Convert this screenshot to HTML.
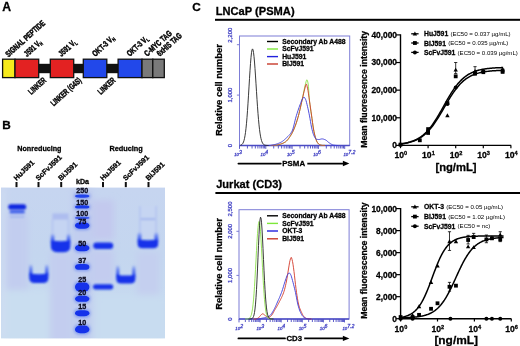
<!DOCTYPE html>
<html><head><meta charset="utf-8"><title>Figure</title>
<style>html,body{margin:0;padding:0;background:#fff;overflow:hidden}svg{display:block}text{font-family:"Liberation Sans", Arial, sans-serif}.hv{stroke:#000;stroke-width:0.28px}.hv2{stroke:#000;stroke-width:0.45px}.hb{stroke:#4a4ac6;stroke-width:0.3px}</style>
</head><body>
<svg width="520" height="346" viewBox="0 0 520 346">
<rect x="0" y="0" width="520" height="346" fill="#fff"/>
<text x="2.20" y="11.40" font-size="12.2" font-weight="bold" text-anchor="start" fill="#000" class="hv">A</text>
<rect x="38.50" y="63.80" width="12.00" height="9.40" fill="#111"/>
<rect x="73.50" y="63.80" width="10.00" height="9.40" fill="#111"/>
<rect x="106.50" y="63.80" width="11.80" height="9.40" fill="#111"/>
<rect x="2.60" y="59.20" width="12.40" height="18.40" fill="#f6ea1c" stroke="#111" stroke-width="1.3"/>
<rect x="15.00" y="59.20" width="23.70" height="18.40" fill="#e32222" stroke="#111" stroke-width="1.3"/>
<rect x="50.30" y="59.20" width="23.40" height="18.40" fill="#e32222" stroke="#111" stroke-width="1.3"/>
<rect x="83.30" y="59.20" width="23.50" height="18.40" fill="#2248ea" stroke="#111" stroke-width="1.3"/>
<rect x="118.10" y="59.20" width="23.90" height="18.40" fill="#2248ea" stroke="#111" stroke-width="1.3"/>
<rect x="142.00" y="59.20" width="10.80" height="18.40" fill="#7a7a7a" stroke="#111" stroke-width="1.3"/>
<rect x="152.80" y="59.20" width="11.50" height="18.40" fill="#7a7a7a" stroke="#111" stroke-width="1.3"/>
<text x="8.60" y="57.40" font-size="8.4" font-weight="bold" text-anchor="start" fill="#000" transform="rotate(-42 8.60 57.40)" textLength="50.00" lengthAdjust="spacingAndGlyphs" class="hv2">SIGNAL PEPTIDE</text>
<text class="hv2" x="27.00" y="57.20" font-size="8.4" font-weight="bold" transform="rotate(-42 27.00 57.20)" textLength="21.00" lengthAdjust="spacingAndGlyphs">J591 V<tspan font-size="5.21" dy="1.4">H</tspan></text>
<text class="hv2" x="61.60" y="57.00" font-size="8.4" font-weight="bold" transform="rotate(-42 61.60 57.00)" textLength="21.00" lengthAdjust="spacingAndGlyphs">J591 V<tspan font-size="5.21" dy="1.4">L</tspan></text>
<text class="hv2" x="95.20" y="57.00" font-size="8.4" font-weight="bold" transform="rotate(-42 95.20 57.00)" textLength="27.00" lengthAdjust="spacingAndGlyphs">OKT-3 V<tspan font-size="5.21" dy="1.4">H</tspan></text>
<text class="hv2" x="129.70" y="56.80" font-size="8.4" font-weight="bold" transform="rotate(-42 129.70 56.80)" textLength="26.00" lengthAdjust="spacingAndGlyphs">OKT-3 V<tspan font-size="5.21" dy="1.4">L</tspan></text>
<text x="147.20" y="56.80" font-size="8.4" font-weight="bold" text-anchor="start" fill="#000" transform="rotate(-42 147.20 56.80)" textLength="34.00" lengthAdjust="spacingAndGlyphs" class="hv2">C-MYC TAG</text>
<text x="159.80" y="56.80" font-size="8.4" font-weight="bold" text-anchor="start" fill="#000" transform="rotate(-42 159.80 56.80)" textLength="30.50" lengthAdjust="spacingAndGlyphs" class="hv2">6xHIS TAG</text>
<text class="hv2" x="46.60" y="81.20" font-size="8.4" font-weight="bold" text-anchor="end" transform="rotate(-42 46.60 81.20)" textLength="20.50" lengthAdjust="spacingAndGlyphs">LINKER</text>
<text class="hv2" x="81.90" y="81.20" font-size="8.4" font-weight="bold" text-anchor="end" transform="rotate(-42 81.90 81.20)" textLength="38.00" lengthAdjust="spacingAndGlyphs">LINKER (G4S)</text>
<text class="hv2" x="116.00" y="81.20" font-size="8.4" font-weight="bold" text-anchor="end" transform="rotate(-42 116.00 81.20)" textLength="20.50" lengthAdjust="spacingAndGlyphs">LINKER</text>
<text x="2.20" y="129.40" font-size="11.8" font-weight="bold" text-anchor="start" fill="#000" class="hv">B</text>
<text x="17.30" y="150.60" font-size="7.3" font-weight="bold" text-anchor="start" fill="#000" textLength="44.20" lengthAdjust="spacingAndGlyphs" class="hv">Nonreducing</text>
<text x="109.40" y="150.60" font-size="7.3" font-weight="bold" text-anchor="start" fill="#000" textLength="33.30" lengthAdjust="spacingAndGlyphs" class="hv">Reducing</text>
<text x="76.00" y="184.40" font-size="7.1" font-weight="bold" text-anchor="start" fill="#000" textLength="13.00" lengthAdjust="spacingAndGlyphs" class="hv">kDa</text>
<text x="16.40" y="181.00" font-size="7.2" font-weight="bold" text-anchor="start" fill="#000" transform="rotate(-44 16.40 181.00)" class="hv">HuJ591</text>
<rect x="15.50" y="182.00" width="2.00" height="5.20" fill="#111"/>
<text x="38.40" y="181.00" font-size="7.2" font-weight="bold" text-anchor="start" fill="#000" transform="rotate(-44 38.40 181.00)" class="hv">ScFvJ591</text>
<rect x="37.50" y="182.00" width="2.00" height="5.20" fill="#111"/>
<text x="61.10" y="181.00" font-size="7.2" font-weight="bold" text-anchor="start" fill="#000" transform="rotate(-44 61.10 181.00)" class="hv">BiJ591</text>
<rect x="60.20" y="182.00" width="2.00" height="5.20" fill="#111"/>
<text x="102.90" y="181.00" font-size="7.2" font-weight="bold" text-anchor="start" fill="#000" transform="rotate(-44 102.90 181.00)" class="hv">HuJ591</text>
<rect x="102.00" y="182.00" width="2.00" height="5.20" fill="#111"/>
<text x="125.70" y="181.00" font-size="7.2" font-weight="bold" text-anchor="start" fill="#000" transform="rotate(-44 125.70 181.00)" class="hv">ScFvJ591</text>
<rect x="124.80" y="182.00" width="2.00" height="5.20" fill="#111"/>
<text x="148.40" y="181.00" font-size="7.2" font-weight="bold" text-anchor="start" fill="#000" transform="rotate(-44 148.40 181.00)" class="hv">BiJ591</text>
<rect x="147.50" y="182.00" width="2.00" height="5.20" fill="#111"/>
<defs><filter id="b05" x="-50%" y="-50%" width="200%" height="200%"><feGaussianBlur stdDeviation="0.55"/></filter><filter id="b1" x="-50%" y="-50%" width="200%" height="200%"><feGaussianBlur stdDeviation="0.8"/></filter><filter id="b2" x="-50%" y="-50%" width="200%" height="200%"><feGaussianBlur stdDeviation="1.5"/></filter><filter id="b3" x="-50%" y="-50%" width="200%" height="200%"><feGaussianBlur stdDeviation="3"/></filter><linearGradient id="gelv" x1="0" y1="0" x2="0" y2="1"><stop offset="0" stop-color="#c6d5f0"/><stop offset="0.45" stop-color="#c4d6ef"/><stop offset="1" stop-color="#c8dcf0"/></linearGradient><linearGradient id="ear" x1="0" y1="0" x2="0" y2="1"><stop offset="0" stop-color="#6a88f0" stop-opacity="0.25"/><stop offset="0.4" stop-color="#4a6af0" stop-opacity="0.8"/><stop offset="1" stop-color="#2244ee" stop-opacity="1"/></linearGradient><clipPath id="gelclip"><rect x="1.0" y="187.6" width="164.0" height="150.70000000000002"/></clipPath></defs>
<rect x="1.00" y="187.60" width="164.00" height="150.70" fill="url(#gelv)"/>
<g clip-path="url(#gelclip)"><g filter="url(#b3)">
<rect x="1.00" y="188.00" width="4.00" height="150.00" fill="#d2def2"/>
<rect x="6.00" y="214.00" width="22.00" height="86.00" fill="#c2cdef"/>
<rect x="50.00" y="252.00" width="21.00" height="93.00" fill="#c3cdef"/>
<rect x="92.00" y="200.00" width="22.00" height="40.00" fill="#c3c9ee"/>
<rect x="92.00" y="250.00" width="22.00" height="34.00" fill="#c3ccef"/>
<rect x="137.00" y="252.00" width="22.00" height="48.00" fill="#c4cfef"/>
<rect x="72.00" y="188.00" width="21.00" height="157.00" fill="#c1cdef"/>
<rect x="5.00" y="290.00" width="45.00" height="55.00" fill="#c9ddf0"/>
<rect x="95.00" y="295.00" width="70.00" height="50.00" fill="#c8dcf0"/>
</g></g>
<g filter="url(#b1)">
<rect x="52.00" y="219.50" width="17.00" height="21.50" fill="#c5d4f2"/>
<rect x="51.60" y="219.50" width="1.80" height="21.50" fill="#b3c4f0"/>
<rect x="67.60" y="219.50" width="1.80" height="21.50" fill="#b3c4f0"/>
<rect x="52.40" y="213.40" width="16.20" height="6.20" fill="#aebdef"/>
<rect x="139.60" y="206.00" width="17.00" height="33.00" fill="#c6d5f2"/>
<rect x="139.20" y="206.00" width="1.80" height="33.00" fill="#b6c6f0"/>
<rect x="155.20" y="206.00" width="1.80" height="33.00" fill="#b6c6f0"/>
<rect x="141.00" y="218.30" width="14.00" height="1.60" fill="#9cb0ee"/>
<rect x="9.00" y="213.50" width="16.00" height="2.00" fill="#b0bff0"/>
</g>
<g filter="url(#b2)" opacity="0.55">
<rect x="74.0" y="193.20" width="16.4" height="5.80" rx="2.90" fill="#4a6cf0" opacity="0.85"/>
<rect x="74.0" y="204.00" width="16.4" height="5.80" rx="2.90" fill="#4a6cf0" opacity="0.9"/>
<rect x="74.0" y="215.60" width="16.4" height="4.60" rx="2.30" fill="#4a6cf0" opacity="0.7"/>
<rect x="74.0" y="221.20" width="16.4" height="8.80" rx="4.40" fill="#4a6cf0" opacity="1"/>
<rect x="74.0" y="243.60" width="16.4" height="8.80" rx="4.40" fill="#4a6cf0" opacity="1"/>
<rect x="74.0" y="262.80" width="16.4" height="8.20" rx="4.10" fill="#4a6cf0" opacity="1"/>
<rect x="74.0" y="281.20" width="16.4" height="11.60" rx="5.00" fill="#4a6cf0" opacity="1"/>
<rect x="74.0" y="294.60" width="16.4" height="8.40" rx="4.20" fill="#4a6cf0" opacity="1"/>
<rect x="74.0" y="309.00" width="16.4" height="8.40" rx="4.20" fill="#4a6cf0" opacity="1"/>
<rect x="74.0" y="324.40" width="16.4" height="10.00" rx="5.00" fill="#4a6cf0" opacity="1"/>
</g>
<g filter="url(#b05)">
<rect x="75.0" y="194.4" width="14.4" height="3.40" rx="5" ry="1.70" fill="#1232ea" opacity="0.85"/>
<rect x="75.0" y="205.2" width="14.4" height="3.40" rx="5" ry="1.70" fill="#1232ea" opacity="0.9"/>
<rect x="75.0" y="216.8" width="14.4" height="2.20" rx="5" ry="1.10" fill="#1232ea" opacity="0.7"/>
<rect x="75.0" y="222.4" width="14.4" height="6.40" rx="5" ry="3.20" fill="#1232ea" opacity="1"/>
<rect x="75.0" y="244.8" width="14.4" height="6.40" rx="5" ry="3.20" fill="#1232ea" opacity="1"/>
<rect x="75.0" y="264.0" width="14.4" height="5.80" rx="5" ry="2.90" fill="#1232ea" opacity="1"/>
<rect x="75.0" y="282.4" width="14.4" height="9.20" rx="5" ry="4.60" fill="#1232ea" opacity="1"/>
<rect x="75.0" y="295.8" width="14.4" height="6.00" rx="5" ry="3.00" fill="#1232ea" opacity="1"/>
<rect x="75.0" y="310.2" width="14.4" height="6.00" rx="5" ry="3.00" fill="#1232ea" opacity="1"/>
<rect x="75.0" y="325.6" width="14.4" height="7.60" rx="5" ry="3.80" fill="#1232ea" opacity="1"/>
</g>
<g filter="url(#b1)">
<rect x="9.6" y="210.6" width="15.2" height="2.6" rx="1.2" fill="#3554ea"/>
<rect x="10" y="216.2" width="14.4" height="1.6" fill="#a4b6ee"/>
<rect x="8.2" y="204.3" width="18" height="5.2" rx="2.6" fill="#1028e0"/>
<rect x="29.20" y="264.50" width="3.20" height="10.50" rx="1.2" fill="url(#ear)"/>
<rect x="45.20" y="264.50" width="3.20" height="10.50" rx="1.2" fill="url(#ear)"/>
<path d="M29.20,273.00 Q38.80,275.40 48.40,273.00 L48.40,277.50 Q48.40,283.00 42.90,283.00 L34.70,283.00 Q29.20,283.00 29.20,277.50 Z" fill="#1232ea"/>
<rect x="50.80" y="234.00" width="3.60" height="8.60" rx="1.2" fill="url(#ear)"/>
<rect x="66.80" y="234.00" width="3.60" height="8.60" rx="1.2" fill="url(#ear)"/>
<path d="M50.80,240.60 Q60.60,241.80 70.40,240.60 L70.40,245.82 Q70.40,252.20 64.02,252.20 L57.18,252.20 Q50.80,252.20 50.80,245.82 Z" fill="#1232ea"/>
<rect x="93.2" y="242.4" width="20.0" height="6.6" rx="3.3" fill="#1232ea"/>
<rect x="93.0" y="284.2" width="20.2" height="5.2" rx="2.6" fill="#1232ea"/>
<rect x="116.20" y="265.50" width="3.20" height="10.90" rx="1.2" fill="url(#ear)"/>
<rect x="132.20" y="265.50" width="3.20" height="10.90" rx="1.2" fill="url(#ear)"/>
<path d="M116.20,274.40 Q125.80,276.80 135.40,274.40 L135.40,278.45 Q135.40,283.40 130.45,283.40 L121.15,283.40 Q116.20,283.40 116.20,278.45 Z" fill="#1232ea"/>
<rect x="137.60" y="232.50" width="3.80" height="9.10" rx="1.2" fill="url(#ear)"/>
<rect x="154.40" y="232.50" width="3.80" height="9.10" rx="1.2" fill="url(#ear)"/>
<path d="M137.60,239.60 Q147.90,240.80 158.20,239.60 L158.20,243.47 Q158.20,248.20 153.47,248.20 L142.33,248.20 Q137.60,248.20 137.60,243.47 Z" fill="#1232ea"/>
</g>
<text x="82.20" y="193.00" font-size="7.2" font-weight="bold" text-anchor="middle" fill="#10103a" class="hv">250</text>
<text x="82.20" y="204.60" font-size="7.2" font-weight="bold" text-anchor="middle" fill="#10103a" class="hv">150</text>
<text x="82.20" y="216.20" font-size="7.2" font-weight="bold" text-anchor="middle" fill="#10103a" class="hv">100</text>
<text x="82.20" y="223.60" font-size="7.2" font-weight="bold" text-anchor="middle" fill="#10103a" class="hv">75</text>
<text x="82.20" y="246.40" font-size="7.2" font-weight="bold" text-anchor="middle" fill="#10103a" class="hv">50</text>
<text x="82.20" y="262.60" font-size="7.2" font-weight="bold" text-anchor="middle" fill="#10103a" class="hv">37</text>
<text x="82.20" y="282.00" font-size="7.2" font-weight="bold" text-anchor="middle" fill="#10103a" class="hv">25</text>
<text x="82.20" y="295.40" font-size="7.2" font-weight="bold" text-anchor="middle" fill="#10103a" class="hv">20</text>
<text x="82.20" y="309.00" font-size="7.2" font-weight="bold" text-anchor="middle" fill="#10103a" class="hv">15</text>
<text x="82.20" y="325.20" font-size="7.2" font-weight="bold" text-anchor="middle" fill="#10103a" class="hv">10</text>
<text x="192.20" y="10.90" font-size="11.8" font-weight="bold" text-anchor="start" fill="#000" class="hv">C</text>
<text x="215.80" y="14.50" font-size="11.1" font-weight="bold" text-anchor="start" fill="#000" textLength="78.80" lengthAdjust="spacingAndGlyphs" class="hv">LNCaP (PSMA)</text>
<rect x="215.00" y="18.80" width="305.00" height="2.00" fill="#000"/>
<text x="216.20" y="188.30" font-size="11.1" font-weight="bold" text-anchor="start" fill="#000" textLength="65.80" lengthAdjust="spacingAndGlyphs" class="hv">Jurkat (CD3)</text>
<rect x="215.40" y="192.00" width="304.60" height="2.00" fill="#000"/>
<text x="222.00" y="90.00" font-size="8.8" font-weight="bold" text-anchor="middle" fill="#000" transform="rotate(-90 222.00 90.00)" textLength="92.00" lengthAdjust="spacingAndGlyphs" class="hv">Relative cell number</text>
<text x="222.00" y="263.90" font-size="8.8" font-weight="bold" text-anchor="middle" fill="#000" transform="rotate(-90 222.00 263.90)" textLength="91.80" lengthAdjust="spacingAndGlyphs" class="hv">Relative cell number</text>
<rect x="239.50" y="36.00" width="110.20" height="109.50" fill="none" stroke="#7d7dd6" stroke-width="1"/>
<line x1="236.90" y1="44.70" x2="239.50" y2="44.70" stroke="#7d7dd6" stroke-width="1"/>
<line x1="236.90" y1="95.10" x2="239.50" y2="95.10" stroke="#7d7dd6" stroke-width="1"/>
<text x="231.70" y="35.20" font-size="6.0" font-weight="normal" text-anchor="middle" fill="#4a4ac6" transform="rotate(-90 231.70 35.20)" class="hb">2,200</text>
<text x="231.70" y="95.10" font-size="6.0" font-weight="normal" text-anchor="middle" fill="#4a4ac6" transform="rotate(-90 231.70 95.10)" class="hb">1,000</text>
<text x="231.70" y="145.50" font-size="6.0" font-weight="normal" text-anchor="middle" fill="#4a4ac6" transform="rotate(-90 231.70 145.50)" class="hb">0</text>
<line x1="239.50" y1="145.50" x2="239.50" y2="148.90" stroke="#4c4cc4" stroke-width="0.9"/>
<line x1="247.42" y1="145.50" x2="247.42" y2="148.50" stroke="#4c4cc4" stroke-width="0.9"/>
<line x1="252.05" y1="145.50" x2="252.05" y2="148.50" stroke="#4c4cc4" stroke-width="0.9"/>
<line x1="255.33" y1="145.50" x2="255.33" y2="148.50" stroke="#4c4cc4" stroke-width="0.9"/>
<line x1="257.88" y1="145.50" x2="257.88" y2="148.50" stroke="#4c4cc4" stroke-width="0.9"/>
<line x1="259.97" y1="145.50" x2="259.97" y2="148.50" stroke="#4c4cc4" stroke-width="0.9"/>
<line x1="261.73" y1="145.50" x2="261.73" y2="148.50" stroke="#4c4cc4" stroke-width="0.9"/>
<line x1="263.25" y1="145.50" x2="263.25" y2="148.50" stroke="#4c4cc4" stroke-width="0.9"/>
<line x1="264.60" y1="145.50" x2="264.60" y2="148.50" stroke="#4c4cc4" stroke-width="0.9"/>
<line x1="265.80" y1="145.50" x2="265.80" y2="148.90" stroke="#4c4cc4" stroke-width="0.9"/>
<line x1="273.72" y1="145.50" x2="273.72" y2="148.50" stroke="#4c4cc4" stroke-width="0.9"/>
<line x1="278.35" y1="145.50" x2="278.35" y2="148.50" stroke="#4c4cc4" stroke-width="0.9"/>
<line x1="281.63" y1="145.50" x2="281.63" y2="148.50" stroke="#4c4cc4" stroke-width="0.9"/>
<line x1="284.18" y1="145.50" x2="284.18" y2="148.50" stroke="#4c4cc4" stroke-width="0.9"/>
<line x1="286.27" y1="145.50" x2="286.27" y2="148.50" stroke="#4c4cc4" stroke-width="0.9"/>
<line x1="288.03" y1="145.50" x2="288.03" y2="148.50" stroke="#4c4cc4" stroke-width="0.9"/>
<line x1="289.55" y1="145.50" x2="289.55" y2="148.50" stroke="#4c4cc4" stroke-width="0.9"/>
<line x1="290.90" y1="145.50" x2="290.90" y2="148.50" stroke="#4c4cc4" stroke-width="0.9"/>
<line x1="292.10" y1="145.50" x2="292.10" y2="148.90" stroke="#4c4cc4" stroke-width="0.9"/>
<line x1="300.02" y1="145.50" x2="300.02" y2="148.50" stroke="#4c4cc4" stroke-width="0.9"/>
<line x1="304.65" y1="145.50" x2="304.65" y2="148.50" stroke="#4c4cc4" stroke-width="0.9"/>
<line x1="307.93" y1="145.50" x2="307.93" y2="148.50" stroke="#4c4cc4" stroke-width="0.9"/>
<line x1="310.48" y1="145.50" x2="310.48" y2="148.50" stroke="#4c4cc4" stroke-width="0.9"/>
<line x1="312.57" y1="145.50" x2="312.57" y2="148.50" stroke="#4c4cc4" stroke-width="0.9"/>
<line x1="314.33" y1="145.50" x2="314.33" y2="148.50" stroke="#4c4cc4" stroke-width="0.9"/>
<line x1="315.85" y1="145.50" x2="315.85" y2="148.50" stroke="#4c4cc4" stroke-width="0.9"/>
<line x1="317.20" y1="145.50" x2="317.20" y2="148.50" stroke="#4c4cc4" stroke-width="0.9"/>
<line x1="318.40" y1="145.50" x2="318.40" y2="148.90" stroke="#4c4cc4" stroke-width="0.9"/>
<line x1="326.32" y1="145.50" x2="326.32" y2="148.50" stroke="#4c4cc4" stroke-width="0.9"/>
<line x1="330.95" y1="145.50" x2="330.95" y2="148.50" stroke="#4c4cc4" stroke-width="0.9"/>
<line x1="334.23" y1="145.50" x2="334.23" y2="148.50" stroke="#4c4cc4" stroke-width="0.9"/>
<line x1="336.78" y1="145.50" x2="336.78" y2="148.50" stroke="#4c4cc4" stroke-width="0.9"/>
<line x1="338.87" y1="145.50" x2="338.87" y2="148.50" stroke="#4c4cc4" stroke-width="0.9"/>
<line x1="340.63" y1="145.50" x2="340.63" y2="148.50" stroke="#4c4cc4" stroke-width="0.9"/>
<line x1="342.15" y1="145.50" x2="342.15" y2="148.50" stroke="#4c4cc4" stroke-width="0.9"/>
<line x1="343.50" y1="145.50" x2="343.50" y2="148.50" stroke="#4c4cc4" stroke-width="0.9"/>
<line x1="344.70" y1="145.50" x2="344.70" y2="148.90" stroke="#4c4cc4" stroke-width="0.9"/>
<line x1="239.50" y1="145.50" x2="349.70" y2="145.50" stroke="#4c4cc4" stroke-width="1.3"/>
<text x="238.00" y="156.10" font-size="4.3" text-anchor="middle" fill="#4a4ac6" font-style="italic" class="hb">10<tspan font-size="5.2" dy="-2.0">3</tspan></text>
<text x="264.40" y="156.10" font-size="4.3" text-anchor="middle" fill="#4a4ac6" font-style="italic" class="hb">10<tspan font-size="5.2" dy="-2.0">4</tspan></text>
<text x="290.80" y="156.10" font-size="4.3" text-anchor="middle" fill="#4a4ac6" font-style="italic" class="hb">10<tspan font-size="5.2" dy="-2.0">5</tspan></text>
<text x="317.00" y="156.10" font-size="4.3" text-anchor="middle" fill="#4a4ac6" font-style="italic" class="hb">10<tspan font-size="5.2" dy="-2.0">6</tspan></text>
<text x="349.40" y="156.10" font-size="4.3" text-anchor="middle" fill="#4a4ac6" font-style="italic" class="hb">10<tspan font-size="5.2" dy="-2.0">7.2</tspan></text>
<polyline points="270.50,145.50 271.00,145.48 271.50,145.47 272.00,145.44 272.50,145.41 273.00,145.38 273.50,145.34 274.00,145.30 274.50,145.25 275.00,145.20 275.50,145.15 276.00,145.10 276.50,145.04 277.00,144.96 277.50,144.87 278.00,144.76 278.50,144.65 279.00,144.52 279.50,144.39 280.00,144.25 280.50,144.10 281.00,143.95 281.50,143.78 282.00,143.60 282.50,143.41 283.00,143.20 283.50,142.97 284.00,142.72 284.50,142.45 285.00,142.15 285.50,141.83 286.00,141.46 286.50,141.01 287.00,140.51 287.50,139.95 288.00,139.34 288.50,138.69 289.00,138.00 289.50,137.28 290.00,136.53 290.50,135.77 291.00,134.98 291.50,134.14 292.00,133.22 292.50,132.24 293.00,131.20 293.50,130.10 294.00,128.94 294.50,127.74 295.00,126.50 295.50,125.18 296.00,123.77 296.50,122.26 297.00,120.68 297.50,119.01 298.00,117.29 298.50,115.50 299.00,113.61 299.50,111.60 300.00,109.48 300.50,107.29 301.00,105.04 301.50,102.77 302.00,100.50 302.50,98.13 303.00,95.61 303.50,93.03 304.00,90.48 304.50,88.07 305.00,85.87 305.50,83.92 306.00,81.85 306.50,80.20 307.00,79.73 307.50,80.79 308.00,83.01 308.50,86.68 309.00,95.20 309.50,101.42 310.00,105.51 310.50,108.90 311.00,111.98 311.50,115.13 312.00,118.68 312.50,122.44 313.00,126.01 313.50,129.06 314.00,131.69 314.50,134.02 315.00,136.00 315.50,137.75 316.00,139.36 316.50,140.76 317.00,141.86 317.50,142.65 318.00,143.32 318.50,143.88 319.00,144.32 319.50,144.60 320.00,144.79 320.50,144.96 321.00,145.10 321.50,145.22 322.00,145.32 322.50,145.38 323.00,145.40 323.50,145.40 324.00,145.41 324.50,145.41 325.00,145.42" fill="none" stroke="#8be04a" stroke-width="0.9" stroke-linejoin="round"/>
<polyline points="270.50,145.50 271.00,145.48 271.50,145.47 272.00,145.44 272.50,145.41 273.00,145.38 273.50,145.34 274.00,145.30 274.50,145.25 275.00,145.20 275.50,145.15 276.00,145.10 276.50,145.04 277.00,144.96 277.50,144.87 278.00,144.76 278.50,144.65 279.00,144.52 279.50,144.39 280.00,144.25 280.50,144.10 281.00,143.95 281.50,143.78 282.00,143.60 282.50,143.41 283.00,143.20 283.50,142.97 284.00,142.72 284.50,142.45 285.00,142.15 285.50,141.83 286.00,141.46 286.50,141.01 287.00,140.51 287.50,139.95 288.00,139.34 288.50,138.69 289.00,138.00 289.50,137.28 290.00,136.53 290.50,135.77 291.00,134.98 291.50,134.14 292.00,133.22 292.50,132.24 293.00,131.20 293.50,130.10 294.00,128.94 294.50,127.74 295.00,126.50 295.50,125.18 296.00,123.77 296.50,122.26 297.00,120.68 297.50,119.01 298.00,117.29 298.50,115.50 299.00,113.60 299.50,111.54 300.00,109.38 300.50,107.15 301.00,104.90 301.50,102.67 302.00,100.50 302.50,98.33 303.00,96.11 303.50,93.91 304.00,91.79 304.50,89.83 305.00,87.94 305.50,85.89 306.00,84.40 306.50,84.26 307.00,85.80 307.50,88.15 308.00,90.66 308.50,93.86 309.00,97.41 309.50,100.86 310.00,104.35 310.50,107.91 311.00,111.50 311.50,115.08 312.00,118.68 312.50,122.44 313.00,126.01 313.50,129.06 314.00,131.69 314.50,134.02 315.00,136.00 315.50,137.75 316.00,139.36 316.50,140.76 317.00,141.86 317.50,142.65 318.00,143.32 318.50,143.88 319.00,144.32 319.50,144.60 320.00,144.79 320.50,144.96 321.00,145.10 321.50,145.22 322.00,145.32 322.50,145.38 323.00,145.40 323.50,145.40 324.00,145.41 324.50,145.41 325.00,145.42" fill="none" stroke="#d23a2a" stroke-width="0.9" stroke-linejoin="round"/>
<polyline points="267.50,145.50 268.00,145.50 268.50,145.49 269.00,145.47 269.50,145.43 270.00,145.38 270.50,145.32 271.00,145.24 271.50,145.16 272.00,145.08 272.50,144.99 273.00,144.89 273.50,144.80 274.00,144.70 274.50,144.60 275.00,144.48 275.50,144.35 276.00,144.21 276.50,144.06 277.00,143.90 277.50,143.72 278.00,143.53 278.50,143.34 279.00,143.13 279.50,142.91 280.00,142.68 280.50,142.45 281.00,142.20 281.50,141.93 282.00,141.62 282.50,141.28 283.00,140.92 283.50,140.52 284.00,140.10 284.50,139.67 285.00,139.22 285.50,138.75 286.00,138.28 286.50,137.80 287.00,137.33 287.50,136.85 288.00,136.38 288.50,135.89 289.00,135.37 289.50,134.82 290.00,134.22 290.50,133.57 291.00,132.86 291.50,132.07 292.00,131.20 292.50,130.08 293.00,128.60 293.50,126.85 294.00,124.91 294.50,122.86 295.00,120.79 295.50,118.78 296.00,116.91 296.50,115.26 297.00,113.66 297.50,112.09 298.00,110.55 298.50,109.04 299.00,107.58 299.50,106.16 300.00,104.80 300.50,103.50 301.00,102.21 301.50,100.93 302.00,99.78 302.50,98.85 303.00,98.11 303.50,97.47 304.00,97.20 304.50,97.51 305.00,98.27 305.50,99.20 306.00,100.55 306.50,102.36 307.00,104.41 307.50,106.50 308.00,108.64 308.50,110.95 309.00,113.39 309.50,115.90 310.00,118.62 310.50,121.56 311.00,124.49 311.50,127.14 312.00,129.33 312.50,131.32 313.00,133.13 313.50,134.65 314.00,135.80 314.50,136.81 315.00,137.73 315.50,138.50 316.00,139.05 316.50,139.30 317.00,139.37 317.50,139.42 318.00,139.47 318.50,139.49 319.00,139.50 319.50,139.46 320.00,139.34 320.50,139.20 321.00,139.06 321.50,138.94 322.00,138.90 322.50,138.93 323.00,139.01 323.50,139.14 324.00,139.30 324.50,139.49 325.00,139.69 325.50,139.90 326.00,140.17 326.50,140.54 327.00,140.97 327.50,141.44 328.00,141.91 328.50,142.34 329.00,142.70 329.50,143.02 330.00,143.36 330.50,143.68 331.00,144.00 331.50,144.29 332.00,144.56 332.50,144.78 333.00,144.96 333.50,145.08 334.00,145.16 334.50,145.23 335.00,145.30 335.50,145.35 336.00,145.40 336.50,145.44 337.00,145.47 337.50,145.49 338.00,145.50" fill="none" stroke="#3a3ad8" stroke-width="0.9" stroke-linejoin="round"/>
<polyline points="240.50,145.23 241.00,145.06 241.50,144.81 242.00,144.43 242.50,143.87 243.00,143.07 243.50,141.96 244.00,140.44 244.50,138.41 245.00,135.78 245.50,132.43 246.00,128.28 246.50,123.28 247.00,117.40 247.50,110.68 248.00,103.23 248.50,95.22 249.00,86.91 249.50,78.60 250.00,70.65 250.50,63.45 251.00,57.38 251.50,52.76 252.00,49.88 252.50,48.90 253.00,49.78 253.50,52.36 254.00,56.52 254.50,62.03 255.00,68.62 255.50,75.96 256.00,83.75 256.50,91.65 257.00,99.39 257.50,106.74 258.00,113.50 258.50,119.56 259.00,124.85 259.50,129.37 260.00,133.12 260.50,136.17 261.00,138.60 261.50,140.49 262.00,141.92 262.50,143.00 263.00,143.78 263.50,144.34 264.00,144.73 264.50,145.00 265.00,145.18 265.50,145.30 266.00,145.38 266.50,145.42 267.00,145.46 267.50,145.47 268.00,145.49 268.50,145.49" fill="none" stroke="#222" stroke-width="0.9" stroke-linejoin="round"/>
<line x1="267.00" y1="41.50" x2="278.00" y2="41.50" stroke="#000" stroke-width="1.4"/>
<text x="282.20" y="43.80" font-size="6.7" font-weight="bold" text-anchor="start" fill="#000" textLength="63.36" lengthAdjust="spacingAndGlyphs" class="hv">Secondary Ab A488</text>
<line x1="267.00" y1="49.00" x2="278.00" y2="49.00" stroke="#7ee83a" stroke-width="1.4"/>
<text x="282.20" y="51.30" font-size="6.7" font-weight="bold" text-anchor="start" fill="#000" textLength="31.38" lengthAdjust="spacingAndGlyphs" class="hv">ScFvJ591</text>
<line x1="267.00" y1="56.60" x2="278.00" y2="56.60" stroke="#2222dd" stroke-width="1.4"/>
<text x="282.20" y="58.90" font-size="6.7" font-weight="bold" text-anchor="start" fill="#000" textLength="24.19" lengthAdjust="spacingAndGlyphs" class="hv">HuJ591</text>
<line x1="267.00" y1="64.00" x2="278.00" y2="64.00" stroke="#c83a2a" stroke-width="1.4"/>
<text x="282.20" y="66.30" font-size="6.7" font-weight="bold" text-anchor="start" fill="#000" textLength="21.93" lengthAdjust="spacingAndGlyphs" class="hv">BiJ591</text>
<line x1="238.40" y1="163.50" x2="280.80" y2="163.50" stroke="#000" stroke-width="1.75" stroke-linecap="round"/>
<line x1="307.30" y1="163.50" x2="345.00" y2="163.50" stroke="#000" stroke-width="1.75"/>
<path d="M342.9,160.80 L349.4,163.50 L342.9,166.20 Z" fill="#000"/>
<text x="282.30" y="165.90" font-size="7.8" font-weight="bold" text-anchor="start" fill="#000" textLength="22.80" lengthAdjust="spacingAndGlyphs" class="hv">PSMA</text>
<rect x="239.00" y="209.70" width="110.10" height="109.30" fill="none" stroke="#7d7dd6" stroke-width="1"/>
<line x1="236.40" y1="231.30" x2="239.00" y2="231.30" stroke="#7d7dd6" stroke-width="1"/>
<line x1="236.40" y1="275.40" x2="239.00" y2="275.40" stroke="#7d7dd6" stroke-width="1"/>
<text x="231.70" y="209.00" font-size="6.0" font-weight="normal" text-anchor="middle" fill="#4a4ac6" transform="rotate(-90 231.70 209.00)" class="hb">2,500</text>
<text x="231.70" y="231.30" font-size="6.0" font-weight="normal" text-anchor="middle" fill="#4a4ac6" transform="rotate(-90 231.70 231.30)" class="hb">2,000</text>
<text x="231.70" y="275.40" font-size="6.0" font-weight="normal" text-anchor="middle" fill="#4a4ac6" transform="rotate(-90 231.70 275.40)" class="hb">1,000</text>
<text x="231.70" y="319.00" font-size="6.0" font-weight="normal" text-anchor="middle" fill="#4a4ac6" transform="rotate(-90 231.70 319.00)" class="hb">0</text>
<line x1="239.00" y1="319.00" x2="239.00" y2="322.40" stroke="#4c4cc4" stroke-width="0.9"/>
<line x1="245.35" y1="319.00" x2="245.35" y2="322.00" stroke="#4c4cc4" stroke-width="0.9"/>
<line x1="249.07" y1="319.00" x2="249.07" y2="322.00" stroke="#4c4cc4" stroke-width="0.9"/>
<line x1="251.70" y1="319.00" x2="251.70" y2="322.00" stroke="#4c4cc4" stroke-width="0.9"/>
<line x1="253.75" y1="319.00" x2="253.75" y2="322.00" stroke="#4c4cc4" stroke-width="0.9"/>
<line x1="255.42" y1="319.00" x2="255.42" y2="322.00" stroke="#4c4cc4" stroke-width="0.9"/>
<line x1="256.83" y1="319.00" x2="256.83" y2="322.00" stroke="#4c4cc4" stroke-width="0.9"/>
<line x1="258.06" y1="319.00" x2="258.06" y2="322.00" stroke="#4c4cc4" stroke-width="0.9"/>
<line x1="259.13" y1="319.00" x2="259.13" y2="322.00" stroke="#4c4cc4" stroke-width="0.9"/>
<line x1="260.10" y1="319.00" x2="260.10" y2="322.40" stroke="#4c4cc4" stroke-width="0.9"/>
<line x1="266.45" y1="319.00" x2="266.45" y2="322.00" stroke="#4c4cc4" stroke-width="0.9"/>
<line x1="270.17" y1="319.00" x2="270.17" y2="322.00" stroke="#4c4cc4" stroke-width="0.9"/>
<line x1="272.80" y1="319.00" x2="272.80" y2="322.00" stroke="#4c4cc4" stroke-width="0.9"/>
<line x1="274.85" y1="319.00" x2="274.85" y2="322.00" stroke="#4c4cc4" stroke-width="0.9"/>
<line x1="276.52" y1="319.00" x2="276.52" y2="322.00" stroke="#4c4cc4" stroke-width="0.9"/>
<line x1="277.93" y1="319.00" x2="277.93" y2="322.00" stroke="#4c4cc4" stroke-width="0.9"/>
<line x1="279.16" y1="319.00" x2="279.16" y2="322.00" stroke="#4c4cc4" stroke-width="0.9"/>
<line x1="280.23" y1="319.00" x2="280.23" y2="322.00" stroke="#4c4cc4" stroke-width="0.9"/>
<line x1="281.20" y1="319.00" x2="281.20" y2="322.40" stroke="#4c4cc4" stroke-width="0.9"/>
<line x1="287.55" y1="319.00" x2="287.55" y2="322.00" stroke="#4c4cc4" stroke-width="0.9"/>
<line x1="291.27" y1="319.00" x2="291.27" y2="322.00" stroke="#4c4cc4" stroke-width="0.9"/>
<line x1="293.90" y1="319.00" x2="293.90" y2="322.00" stroke="#4c4cc4" stroke-width="0.9"/>
<line x1="295.95" y1="319.00" x2="295.95" y2="322.00" stroke="#4c4cc4" stroke-width="0.9"/>
<line x1="297.62" y1="319.00" x2="297.62" y2="322.00" stroke="#4c4cc4" stroke-width="0.9"/>
<line x1="299.03" y1="319.00" x2="299.03" y2="322.00" stroke="#4c4cc4" stroke-width="0.9"/>
<line x1="300.26" y1="319.00" x2="300.26" y2="322.00" stroke="#4c4cc4" stroke-width="0.9"/>
<line x1="301.33" y1="319.00" x2="301.33" y2="322.00" stroke="#4c4cc4" stroke-width="0.9"/>
<line x1="302.30" y1="319.00" x2="302.30" y2="322.40" stroke="#4c4cc4" stroke-width="0.9"/>
<line x1="308.65" y1="319.00" x2="308.65" y2="322.00" stroke="#4c4cc4" stroke-width="0.9"/>
<line x1="312.37" y1="319.00" x2="312.37" y2="322.00" stroke="#4c4cc4" stroke-width="0.9"/>
<line x1="315.00" y1="319.00" x2="315.00" y2="322.00" stroke="#4c4cc4" stroke-width="0.9"/>
<line x1="317.05" y1="319.00" x2="317.05" y2="322.00" stroke="#4c4cc4" stroke-width="0.9"/>
<line x1="318.72" y1="319.00" x2="318.72" y2="322.00" stroke="#4c4cc4" stroke-width="0.9"/>
<line x1="320.13" y1="319.00" x2="320.13" y2="322.00" stroke="#4c4cc4" stroke-width="0.9"/>
<line x1="321.36" y1="319.00" x2="321.36" y2="322.00" stroke="#4c4cc4" stroke-width="0.9"/>
<line x1="322.43" y1="319.00" x2="322.43" y2="322.00" stroke="#4c4cc4" stroke-width="0.9"/>
<line x1="323.40" y1="319.00" x2="323.40" y2="322.40" stroke="#4c4cc4" stroke-width="0.9"/>
<line x1="329.75" y1="319.00" x2="329.75" y2="322.00" stroke="#4c4cc4" stroke-width="0.9"/>
<line x1="333.47" y1="319.00" x2="333.47" y2="322.00" stroke="#4c4cc4" stroke-width="0.9"/>
<line x1="336.10" y1="319.00" x2="336.10" y2="322.00" stroke="#4c4cc4" stroke-width="0.9"/>
<line x1="338.15" y1="319.00" x2="338.15" y2="322.00" stroke="#4c4cc4" stroke-width="0.9"/>
<line x1="339.82" y1="319.00" x2="339.82" y2="322.00" stroke="#4c4cc4" stroke-width="0.9"/>
<line x1="341.23" y1="319.00" x2="341.23" y2="322.00" stroke="#4c4cc4" stroke-width="0.9"/>
<line x1="342.46" y1="319.00" x2="342.46" y2="322.00" stroke="#4c4cc4" stroke-width="0.9"/>
<line x1="343.53" y1="319.00" x2="343.53" y2="322.00" stroke="#4c4cc4" stroke-width="0.9"/>
<line x1="344.50" y1="319.00" x2="344.50" y2="322.40" stroke="#4c4cc4" stroke-width="0.9"/>
<line x1="239.00" y1="319.00" x2="349.10" y2="319.00" stroke="#4c4cc4" stroke-width="1.3"/>
<text x="239.20" y="329.60" font-size="4.3" text-anchor="middle" fill="#4a4ac6" font-style="italic" class="hb">10<tspan font-size="5.2" dy="-2.0">2</tspan></text>
<text x="260.30" y="329.60" font-size="4.3" text-anchor="middle" fill="#4a4ac6" font-style="italic" class="hb">10<tspan font-size="5.2" dy="-2.0">3</tspan></text>
<text x="281.40" y="329.60" font-size="4.3" text-anchor="middle" fill="#4a4ac6" font-style="italic" class="hb">10<tspan font-size="5.2" dy="-2.0">4</tspan></text>
<text x="302.50" y="329.60" font-size="4.3" text-anchor="middle" fill="#4a4ac6" font-style="italic" class="hb">10<tspan font-size="5.2" dy="-2.0">5</tspan></text>
<text x="323.60" y="329.60" font-size="4.3" text-anchor="middle" fill="#4a4ac6" font-style="italic" class="hb">10<tspan font-size="5.2" dy="-2.0">6</tspan></text>
<text x="348.40" y="329.60" font-size="4.3" text-anchor="middle" fill="#4a4ac6" font-style="italic" class="hb">10<tspan font-size="5.2" dy="-2.0">7.2</tspan></text>
<polyline points="253.50,319.00 254.00,319.00 254.50,319.00 255.00,319.00 255.50,318.97 256.00,318.89 256.50,318.76 257.00,318.60 257.50,318.41 258.00,318.20 258.50,317.85 259.00,317.31 259.50,316.68 260.00,316.04 260.50,315.50 261.00,314.99 261.50,314.46 262.00,314.02 262.50,313.81 263.00,313.88 263.50,314.16 264.00,314.56 264.50,314.98 265.00,315.35 265.50,315.77 266.00,316.20 266.50,316.58 267.00,316.80 267.50,316.92 268.00,317.01 268.50,317.08 269.00,317.10 269.50,317.00 270.00,316.75 270.50,316.39 271.00,316.00 271.50,315.50 272.00,314.83 272.50,314.03 273.00,313.13 273.50,312.20 274.00,311.28 274.50,310.40 275.00,309.57 275.50,308.73 276.00,307.89 276.50,307.04 277.00,306.17 277.50,305.29 278.00,304.39 278.50,303.46 279.00,302.50 279.50,301.53 280.00,300.58 280.50,299.62 281.00,298.64 281.50,297.62 282.00,296.54 282.50,295.40 283.00,294.17 283.50,292.85 284.00,291.40 284.50,289.73 285.00,287.81 285.50,285.69 286.00,283.41 286.50,281.00 287.00,278.29 287.50,275.22 288.00,272.05 288.50,269.00 289.00,265.90 289.50,262.85 290.00,260.50 290.50,258.69 291.00,257.44 291.50,257.65 292.00,259.31 292.50,261.44 293.00,264.27 293.50,267.79 294.00,271.54 294.50,275.83 295.00,280.29 295.50,284.54 296.00,288.73 296.50,292.37 297.00,295.65 297.50,298.74 298.00,301.57 298.50,304.02 299.00,306.00 299.50,307.59 300.00,308.95 300.50,310.15 301.00,311.25 301.50,312.29 302.00,313.35 302.50,314.40 303.00,315.38 303.50,316.20 304.00,316.80 304.50,317.24 305.00,317.63 305.50,317.98 306.00,318.26 306.50,318.47 307.00,318.60 307.50,318.69 308.00,318.76 308.50,318.83 309.00,318.89 309.50,318.94 310.00,318.97 310.50,318.99 311.00,319.00 311.50,319.00" fill="none" stroke="#d23a2a" stroke-width="0.9" stroke-linejoin="round"/>
<polyline points="256.50,319.00 257.00,319.00 257.50,319.00 258.00,319.00 258.50,318.98 259.00,318.91 259.50,318.82 260.00,318.70 260.50,318.57 261.00,318.44 261.50,318.31 262.00,318.20 262.50,318.10 263.00,318.02 263.50,317.93 264.00,317.84 264.50,317.75 265.00,317.65 265.50,317.53 266.00,317.40 266.50,317.25 267.00,317.08 267.50,316.89 268.00,316.67 268.50,316.43 269.00,316.15 269.50,315.84 270.00,315.50 270.50,315.06 271.00,314.47 271.50,313.77 272.00,312.98 272.50,312.14 273.00,311.27 273.50,310.40 274.00,309.51 274.50,308.54 275.00,307.52 275.50,306.46 276.00,305.37 276.50,304.25 277.00,303.12 277.50,302.00 278.00,300.88 278.50,299.76 279.00,298.62 279.50,297.47 280.00,296.29 280.50,295.07 281.00,293.82 281.50,292.51 282.00,291.14 282.50,289.65 283.00,288.05 283.50,286.39 284.00,284.72 284.50,283.07 285.00,281.48 285.50,280.00 286.00,278.54 286.50,277.10 287.00,275.80 287.50,274.80 288.00,273.98 288.50,273.28 289.00,272.91 289.50,273.06 290.00,273.60 290.50,274.34 291.00,275.34 291.50,276.87 292.00,278.67 292.50,280.50 293.00,282.30 293.50,284.20 294.00,286.18 294.50,288.25 295.00,290.39 295.50,292.61 296.00,295.12 296.50,297.78 297.00,300.43 297.50,302.90 298.00,305.00 298.50,306.80 299.00,308.48 299.50,310.00 300.00,311.35 300.50,312.50 301.00,313.51 301.50,314.44 302.00,315.26 302.50,315.96 303.00,316.50 303.50,316.94 304.00,317.35 304.50,317.70 305.00,318.00 305.50,318.24 306.00,318.40 306.50,318.52 307.00,318.63 307.50,318.74 308.00,318.82 308.50,318.90 309.00,318.95 309.50,318.99 310.00,319.00 310.50,319.00 311.00,319.00" fill="none" stroke="#3a3ad8" stroke-width="0.9" stroke-linejoin="round"/>
<polyline points="245.00,319.00 245.50,318.99 246.00,318.99 246.50,318.97 247.00,318.95 247.50,318.91 248.00,318.84 248.50,318.72 249.00,318.52 249.50,318.19 250.00,317.69 250.50,316.92 251.00,315.79 251.50,314.17 252.00,311.92 252.50,308.89 253.00,304.93 253.50,299.93 254.00,293.81 254.50,286.58 255.00,278.34 255.50,269.32 256.00,259.86 256.50,250.41 257.00,241.49 257.50,233.66 258.00,227.45 258.50,223.31 259.00,221.55 259.50,222.36 260.00,225.79 260.50,231.56 261.00,239.22 261.50,248.20 262.00,257.89 262.50,267.70 263.00,277.12 263.50,285.74 264.00,293.31 264.50,299.70 265.00,304.90 265.50,308.98 266.00,312.08 266.50,314.35 267.00,315.96 267.50,317.07 268.00,317.80 268.50,318.28 269.00,318.58 269.50,318.76 270.00,318.87 270.50,318.93 271.00,318.96 271.50,318.98 272.00,318.99 272.50,319.00" fill="none" stroke="#8be04a" stroke-width="0.9" stroke-linejoin="round"/>
<polyline points="248.50,319.00 249.00,319.00 249.50,318.99 250.00,318.97 250.50,318.95 251.00,318.89 251.50,318.78 252.00,318.57 252.50,318.20 253.00,317.58 253.50,316.55 254.00,314.94 254.50,312.50 255.00,308.98 255.50,304.12 256.00,297.70 256.50,289.61 257.00,279.93 257.50,268.94 258.00,257.19 258.50,245.46 259.00,234.68 259.50,225.82 260.00,219.78 260.50,217.18 261.00,218.13 261.50,222.23 262.00,229.07 262.50,238.06 263.00,248.43 263.50,259.40 264.00,270.25 264.50,280.37 265.00,289.35 265.50,296.96 266.00,303.13 266.50,307.93 267.00,311.52 267.50,314.11 268.00,315.90 268.50,317.10 269.00,317.87 269.50,318.35 270.00,318.64 270.50,318.80 271.00,318.90 271.50,318.95 272.00,318.97 272.50,318.99 273.00,318.99 273.50,319.00" fill="none" stroke="#222" stroke-width="0.9" stroke-linejoin="round"/>
<line x1="267.00" y1="215.80" x2="278.00" y2="215.80" stroke="#000" stroke-width="1.4"/>
<text x="282.20" y="218.10" font-size="6.7" font-weight="bold" text-anchor="start" fill="#000" textLength="63.36" lengthAdjust="spacingAndGlyphs" class="hv">Secondary Ab A488</text>
<line x1="267.00" y1="223.40" x2="278.00" y2="223.40" stroke="#7ee83a" stroke-width="1.4"/>
<text x="282.20" y="225.70" font-size="6.7" font-weight="bold" text-anchor="start" fill="#000" textLength="31.38" lengthAdjust="spacingAndGlyphs" class="hv">ScFvJ591</text>
<line x1="267.00" y1="231.00" x2="278.00" y2="231.00" stroke="#2222dd" stroke-width="1.4"/>
<text x="282.20" y="233.30" font-size="6.7" font-weight="bold" text-anchor="start" fill="#000" textLength="20.02" lengthAdjust="spacingAndGlyphs" class="hv">OKT-3</text>
<line x1="267.00" y1="238.80" x2="278.00" y2="238.80" stroke="#c83a2a" stroke-width="1.4"/>
<text x="282.20" y="241.10" font-size="6.7" font-weight="bold" text-anchor="start" fill="#000" textLength="21.93" lengthAdjust="spacingAndGlyphs" class="hv">BiJ591</text>
<line x1="238.40" y1="338.40" x2="285.00" y2="338.40" stroke="#000" stroke-width="1.75" stroke-linecap="round"/>
<line x1="304.20" y1="338.40" x2="345.00" y2="338.40" stroke="#000" stroke-width="1.75"/>
<path d="M342.9,335.70 L349.4,338.40 L342.9,341.10 Z" fill="#000"/>
<text x="286.50" y="340.80" font-size="7.8" font-weight="bold" text-anchor="start" fill="#000" textLength="15.50" lengthAdjust="spacingAndGlyphs" class="hv">CD3</text>
<line x1="400.50" y1="34.30" x2="400.50" y2="146.10" stroke="#000" stroke-width="1.4"/>
<line x1="399.80" y1="145.40" x2="511.20" y2="145.40" stroke="#000" stroke-width="1.4"/>
<line x1="395.90" y1="34.90" x2="400.50" y2="34.90" stroke="#000" stroke-width="1.2"/>
<text x="397.00" y="37.85" font-size="8.4" font-weight="bold" text-anchor="end" fill="#000" class="hv">40,000</text>
<line x1="395.90" y1="62.53" x2="400.50" y2="62.53" stroke="#000" stroke-width="1.2"/>
<text x="397.00" y="65.48" font-size="8.4" font-weight="bold" text-anchor="end" fill="#000" class="hv">30,000</text>
<line x1="395.90" y1="90.15" x2="400.50" y2="90.15" stroke="#000" stroke-width="1.2"/>
<text x="397.00" y="93.10" font-size="8.4" font-weight="bold" text-anchor="end" fill="#000" class="hv">20,000</text>
<line x1="395.90" y1="117.78" x2="400.50" y2="117.78" stroke="#000" stroke-width="1.2"/>
<text x="397.00" y="120.73" font-size="8.4" font-weight="bold" text-anchor="end" fill="#000" class="hv">10,000</text>
<line x1="395.90" y1="145.40" x2="400.50" y2="145.40" stroke="#000" stroke-width="1.2"/>
<text x="397.00" y="148.35" font-size="8.4" font-weight="bold" text-anchor="end" fill="#000" class="hv">0</text>
<line x1="400.50" y1="145.40" x2="400.50" y2="148.20" stroke="#000" stroke-width="1.2"/>
<text x="394.50" y="158.0" font-size="8.6" font-weight="bold" class="hv">10<tspan font-size="5.6" dy="-3.2">0</tspan></text>
<line x1="428.10" y1="145.40" x2="428.10" y2="148.20" stroke="#000" stroke-width="1.2"/>
<text x="422.10" y="158.0" font-size="8.6" font-weight="bold" class="hv">10<tspan font-size="5.6" dy="-3.2">1</tspan></text>
<line x1="455.70" y1="145.40" x2="455.70" y2="148.20" stroke="#000" stroke-width="1.2"/>
<text x="449.70" y="158.0" font-size="8.6" font-weight="bold" class="hv">10<tspan font-size="5.6" dy="-3.2">2</tspan></text>
<line x1="483.30" y1="145.40" x2="483.30" y2="148.20" stroke="#000" stroke-width="1.2"/>
<text x="477.30" y="158.0" font-size="8.6" font-weight="bold" class="hv">10<tspan font-size="5.6" dy="-3.2">3</tspan></text>
<line x1="510.90" y1="145.40" x2="510.90" y2="148.20" stroke="#000" stroke-width="1.2"/>
<text x="504.90" y="158.0" font-size="8.6" font-weight="bold" class="hv">10<tspan font-size="5.6" dy="-3.2">4</tspan></text>
<text x="435.40" y="170.60" font-size="11.2" font-weight="bold" text-anchor="start" fill="#000" textLength="41.20" lengthAdjust="spacingAndGlyphs" class="hv">[ng/mL]</text>
<text x="366.60" y="89.30" font-size="8.8" font-weight="bold" text-anchor="middle" fill="#000" transform="rotate(-90 366.60 89.30)" textLength="116.90" lengthAdjust="spacingAndGlyphs" class="hv">Mean fluorescence intensity</text>
<polyline points="400.50,143.92 401.33,143.81 402.16,143.69 402.98,143.56 403.81,143.41 404.64,143.26 405.47,143.10 406.30,142.92 407.12,142.73 407.95,142.53 408.78,142.31 409.61,142.08 410.44,141.83 411.26,141.56 412.09,141.27 412.92,140.97 413.75,140.64 414.58,140.29 415.40,139.91 416.23,139.51 417.06,139.08 417.89,138.63 418.72,138.14 419.54,137.63 420.37,137.08 421.20,136.50 422.03,135.88 422.86,135.23 423.68,134.53 424.51,133.80 425.34,133.03 426.17,132.22 427.00,131.37 427.82,130.47 428.65,129.53 429.48,128.55 430.31,127.52 431.14,126.45 431.96,125.34 432.79,124.19 433.62,122.99 434.45,121.76 435.28,120.49 436.10,119.18 436.93,117.84 437.76,116.47 438.59,115.07 439.42,113.65 440.24,112.21 441.07,110.75 441.90,109.28 442.73,107.80 443.56,106.31 444.38,104.83 445.21,103.35 446.04,101.87 446.87,100.42 447.70,98.97 448.52,97.55 449.35,96.15 450.18,94.78 451.01,93.44 451.84,92.14 452.66,90.86 453.49,89.63 454.32,88.43 455.15,87.28 455.98,86.17 456.80,85.10 457.63,84.07 458.46,83.09 459.29,82.15 460.12,81.25 460.94,80.40 461.77,79.59 462.60,78.82 463.43,78.09 464.26,77.40 465.08,76.74 465.91,76.13 466.74,75.54 467.57,74.99 468.40,74.48 469.22,73.99 470.05,73.54 470.88,73.11 471.71,72.71 472.54,72.33 473.36,71.98 474.19,71.65 475.02,71.35 475.85,71.06 476.68,70.79 477.50,70.54 478.33,70.31 479.16,70.09 479.99,69.89 480.82,69.70 481.64,69.52 482.47,69.36 483.30,69.21 484.13,69.07 484.96,68.93 485.78,68.81 486.61,68.70 487.44,68.59 488.27,68.49 489.10,68.40 489.92,68.32 490.75,68.24 491.58,68.16 492.41,68.09 493.24,68.03 494.06,67.97 494.89,67.92 495.72,67.87 496.55,67.82 497.38,67.78 498.20,67.74 499.03,67.70 499.86,67.66 500.69,67.63 501.52,67.60 502.34,67.57 503.17,67.55" fill="none" stroke="#000" stroke-width="1.5" stroke-linejoin="round"/>
<polyline points="400.50,144.05 401.33,143.94 402.16,143.83 402.98,143.71 403.81,143.58 404.64,143.44 405.47,143.29 406.30,143.12 407.12,142.95 407.95,142.76 408.78,142.56 409.61,142.35 410.44,142.12 411.26,141.87 412.09,141.61 412.92,141.32 413.75,141.02 414.58,140.70 415.40,140.35 416.23,139.98 417.06,139.58 417.89,139.16 418.72,138.71 419.54,138.24 420.37,137.73 421.20,137.19 422.03,136.62 422.86,136.01 423.68,135.37 424.51,134.69 425.34,133.97 426.17,133.21 427.00,132.42 427.82,131.58 428.65,130.70 429.48,129.78 430.31,128.82 431.14,127.81 431.96,126.77 432.79,125.68 433.62,124.56 434.45,123.39 435.28,122.19 436.10,120.95 436.93,119.68 437.76,118.37 438.59,117.04 439.42,115.69 440.24,114.31 441.07,112.91 441.90,111.50 442.73,110.08 443.56,108.65 444.38,107.21 445.21,105.78 446.04,104.36 446.87,102.94 447.70,101.54 448.52,100.15 449.35,98.79 450.18,97.45 451.01,96.14 451.84,94.85 452.66,93.60 453.49,92.39 454.32,91.21 455.15,90.07 455.98,88.97 456.80,87.91 457.63,86.90 458.46,85.92 459.29,84.99 460.12,84.09 460.94,83.24 461.77,82.43 462.60,81.66 463.43,80.93 464.26,80.24 465.08,79.58 465.91,78.97 466.74,78.38 467.57,77.83 468.40,77.31 469.22,76.83 470.05,76.37 470.88,75.94 471.71,75.53 472.54,75.16 473.36,74.80 474.19,74.47 475.02,74.16 475.85,73.87 476.68,73.60 477.50,73.35 478.33,73.11 479.16,72.89 479.99,72.69 480.82,72.49 481.64,72.32 482.47,72.15 483.30,72.00 484.13,71.85 484.96,71.72 485.78,71.59 486.61,71.48 487.44,71.37 488.27,71.27 489.10,71.18 489.92,71.09 490.75,71.01 491.58,70.94 492.41,70.87 493.24,70.81 494.06,70.75 494.89,70.69 495.72,70.64 496.55,70.59 497.38,70.55 498.20,70.51 499.03,70.47 499.86,70.43 500.69,70.40 501.52,70.37 502.34,70.34 503.17,70.32" fill="none" stroke="#000" stroke-width="1.5" stroke-linejoin="round"/>
<line x1="455.70" y1="62.53" x2="455.70" y2="73.58" stroke="#000" stroke-width="0.8"/>
<line x1="454.10" y1="62.53" x2="457.30" y2="62.53" stroke="#000" stroke-width="0.8"/>
<line x1="454.10" y1="73.58" x2="457.30" y2="73.58" stroke="#000" stroke-width="0.8"/>
<line x1="475.02" y1="66.67" x2="475.02" y2="74.96" stroke="#000" stroke-width="0.8"/>
<line x1="473.42" y1="66.67" x2="476.62" y2="66.67" stroke="#000" stroke-width="0.8"/>
<line x1="473.42" y1="74.96" x2="476.62" y2="74.96" stroke="#000" stroke-width="0.8"/>
<rect x="398.60" y="142.67" width="3.8" height="3.8" fill="#000"/>
<circle cx="400.50" cy="144.85" r="2.0" fill="#000"/>
<rect x="417.92" y="138.39" width="3.8" height="3.8" fill="#000"/>
<rect x="426.20" y="127.20" width="3.8" height="3.8" fill="#000"/>
<rect x="426.20" y="131.07" width="3.8" height="3.8" fill="#000"/>
<circle cx="428.10" cy="131.03" r="2.0" fill="#000"/>
<rect x="445.52" y="101.23" width="3.8" height="3.8" fill="#000"/>
<path d="M447.42,113.27 L449.62,117.16 L445.22,117.16 Z" fill="#000"/>
<circle cx="447.42" cy="103.96" r="2.0" fill="#000"/>
<circle cx="455.70" cy="87.39" r="2.0" fill="#000"/>
<rect x="453.80" y="74.44" width="3.8" height="3.8" fill="#000"/>
<path d="M455.70,67.68 L457.90,71.58 L453.50,71.58 Z" fill="#000"/>
<rect x="473.12" y="71.67" width="3.8" height="3.8" fill="#000"/>
<circle cx="475.02" cy="72.75" r="2.0" fill="#000"/>
<path d="M475.02,69.06 L477.22,72.96 L472.82,72.96 Z" fill="#000"/>
<rect x="481.40" y="70.29" width="3.8" height="3.8" fill="#000"/>
<circle cx="483.30" cy="71.36" r="2.0" fill="#000"/>
<rect x="500.72" y="70.02" width="3.8" height="3.8" fill="#000"/>
<circle cx="502.62" cy="69.98" r="2.0" fill="#000"/>
<path d="M502.62,68.24 L504.82,72.14 L500.42,72.14 Z" fill="#000"/>
<line x1="411.20" y1="33.80" x2="418.60" y2="33.80" stroke="#000" stroke-width="1.3"/>
<path d="M414.90,31.50 L417.10,35.40 L412.70,35.40 Z" fill="#000"/>
<text x="424.0" y="36.30" font-size="6.8" font-weight="bold" class="hv">HuJ591</text>
<text x="450.39" y="36.00" font-size="6.1" font-weight="normal">(EC50 = 0.037 µg/mL)</text>
<line x1="411.20" y1="43.00" x2="418.60" y2="43.00" stroke="#000" stroke-width="1.3"/>
<rect x="413.00" y="41.10" width="3.8" height="3.8" fill="#000"/>
<text x="424.0" y="45.50" font-size="6.8" font-weight="bold" class="hv">BiJ591</text>
<text x="448.13" y="45.20" font-size="6.1" font-weight="normal">(EC50 = 0.035 µg/mL)</text>
<line x1="411.20" y1="52.40" x2="418.60" y2="52.40" stroke="#000" stroke-width="1.3"/>
<circle cx="414.90" cy="52.40" r="2.0" fill="#000"/>
<text x="424.0" y="54.90" font-size="6.8" font-weight="bold" class="hv">ScFvJ591</text>
<text x="457.58" y="54.60" font-size="6.1" font-weight="normal">(EC50 = 0.039 µg/mL)</text>
<line x1="400.60" y1="208.00" x2="400.60" y2="319.40" stroke="#000" stroke-width="1.4"/>
<line x1="399.90" y1="318.70" x2="511.40" y2="318.70" stroke="#000" stroke-width="1.4"/>
<line x1="396.00" y1="208.60" x2="400.60" y2="208.60" stroke="#000" stroke-width="1.2"/>
<text x="397.00" y="211.55" font-size="8.4" font-weight="bold" text-anchor="end" fill="#000" class="hv">10,000</text>
<line x1="396.00" y1="230.62" x2="400.60" y2="230.62" stroke="#000" stroke-width="1.2"/>
<text x="397.00" y="233.57" font-size="8.4" font-weight="bold" text-anchor="end" fill="#000" class="hv">8,000</text>
<line x1="396.00" y1="252.64" x2="400.60" y2="252.64" stroke="#000" stroke-width="1.2"/>
<text x="397.00" y="255.59" font-size="8.4" font-weight="bold" text-anchor="end" fill="#000" class="hv">6,000</text>
<line x1="396.00" y1="274.66" x2="400.60" y2="274.66" stroke="#000" stroke-width="1.2"/>
<text x="397.00" y="277.61" font-size="8.4" font-weight="bold" text-anchor="end" fill="#000" class="hv">4,000</text>
<line x1="396.00" y1="296.68" x2="400.60" y2="296.68" stroke="#000" stroke-width="1.2"/>
<text x="397.00" y="299.63" font-size="8.4" font-weight="bold" text-anchor="end" fill="#000" class="hv">2,000</text>
<line x1="396.00" y1="318.70" x2="400.60" y2="318.70" stroke="#000" stroke-width="1.2"/>
<text x="397.00" y="321.65" font-size="8.4" font-weight="bold" text-anchor="end" fill="#000" class="hv">0</text>
<line x1="400.60" y1="318.70" x2="400.60" y2="321.50" stroke="#000" stroke-width="1.2"/>
<text x="394.60" y="331.8" font-size="8.6" font-weight="bold" class="hv">10<tspan font-size="5.6" dy="-3.2">0</tspan></text>
<line x1="437.50" y1="318.70" x2="437.50" y2="321.50" stroke="#000" stroke-width="1.2"/>
<text x="431.50" y="331.8" font-size="8.6" font-weight="bold" class="hv">10<tspan font-size="5.6" dy="-3.2">2</tspan></text>
<line x1="474.40" y1="318.70" x2="474.40" y2="321.50" stroke="#000" stroke-width="1.2"/>
<text x="468.40" y="331.8" font-size="8.6" font-weight="bold" class="hv">10<tspan font-size="5.6" dy="-3.2">4</tspan></text>
<line x1="511.30" y1="318.70" x2="511.30" y2="321.50" stroke="#000" stroke-width="1.2"/>
<text x="505.30" y="331.8" font-size="8.6" font-weight="bold" class="hv">10<tspan font-size="5.6" dy="-3.2">6</tspan></text>
<text x="434.40" y="343.60" font-size="11.2" font-weight="bold" text-anchor="start" fill="#000" textLength="43.60" lengthAdjust="spacingAndGlyphs" class="hv">[ng/mL]</text>
<text x="366.60" y="260.60" font-size="8.8" font-weight="bold" text-anchor="middle" fill="#000" transform="rotate(-90 366.60 260.60)" textLength="116.50" lengthAdjust="spacingAndGlyphs" class="hv">Mean fluorescence intensity</text>
<polyline points="400.60,317.43 401.15,317.33 401.71,317.23 402.26,317.12 402.81,317.01 403.37,316.88 403.92,316.75 404.47,316.60 405.03,316.45 405.58,316.29 406.14,316.11 406.69,315.92 407.24,315.72 407.80,315.51 408.35,315.28 408.90,315.03 409.46,314.77 410.01,314.48 410.56,314.19 411.12,313.87 411.67,313.52 412.22,313.16 412.78,312.77 413.33,312.36 413.88,311.92 414.44,311.46 414.99,310.97 415.54,310.44 416.10,309.89 416.65,309.30 417.21,308.68 417.76,308.02 418.31,307.33 418.87,306.60 419.42,305.83 419.97,305.02 420.53,304.17 421.08,303.28 421.63,302.35 422.19,301.38 422.74,300.36 423.29,299.31 423.85,298.21 424.40,297.07 424.95,295.89 425.51,294.68 426.06,293.42 426.61,292.13 427.17,290.80 427.72,289.45 428.28,288.06 428.83,286.65 429.38,285.21 429.94,283.76 430.49,282.28 431.04,280.80 431.60,279.30 432.15,277.80 432.70,276.30 433.26,274.80 433.81,273.31 434.36,271.83 434.92,270.36 435.47,268.91 436.02,267.48 436.58,266.08 437.13,264.70 437.68,263.36 438.24,262.04 438.79,260.76 439.35,259.52 439.90,258.31 440.45,257.15 441.01,256.02 441.56,254.94 442.11,253.90 442.67,252.90 443.22,251.94 443.77,251.02 444.33,250.15 444.88,249.31 445.43,248.52 445.99,247.76 446.54,247.04 447.09,246.36 447.65,245.72 448.20,245.11 448.75,244.53 449.31,243.98 449.86,243.47 450.41,242.99 450.97,242.53 451.52,242.10 452.08,241.70 452.63,241.32 453.18,240.96 453.74,240.63 454.29,240.32 454.84,240.02 455.40,239.75 455.95,239.49 456.50,239.25 457.06,239.03 457.61,238.82 458.16,238.62 458.72,238.43 459.27,238.26 459.82,238.10 460.38,237.95 460.93,237.81 461.48,237.68 462.04,237.56 462.59,237.45 463.15,237.34 463.70,237.24 464.25,237.15 464.81,237.06 465.36,236.98 465.91,236.91 466.47,236.84 467.02,236.77 467.57,236.71 468.13,236.66 468.68,236.61 469.23,236.56 469.79,236.51 470.34,236.47 470.89,236.43 471.45,236.39 472.00,236.36 472.55,236.33 473.11,236.30 473.66,236.27 474.22,236.25 474.77,236.22 475.32,236.20 475.88,236.18 476.43,236.16 476.98,236.14 477.54,236.13 478.09,236.11 478.64,236.10 479.20,236.08 479.75,236.07 480.30,236.06 480.86,236.05 481.41,236.04 481.96,236.03 482.52,236.02 483.07,236.01 483.62,236.00 484.18,236.00 484.73,235.99 485.29,235.98 485.84,235.98 486.39,235.97 486.95,235.97 487.50,235.96 488.05,235.96 488.61,235.96 489.16,235.95 489.71,235.95 490.27,235.95 490.82,235.94 491.37,235.94 491.93,235.94 492.48,235.94 493.03,235.93 493.59,235.93 494.14,235.93 494.69,235.93 495.25,235.93 495.80,235.93 496.36,235.92 496.91,235.92 497.46,235.92 498.02,235.92 498.57,235.92 499.12,235.92 499.68,235.92 500.23,235.92 500.78,235.92 501.34,235.91 501.89,235.91 502.44,235.91 503.00,235.91 503.55,235.91" fill="none" stroke="#000" stroke-width="1.5" stroke-linejoin="round"/>
<polyline points="400.60,317.84 401.15,317.83 401.71,317.82 402.26,317.80 402.81,317.79 403.37,317.77 403.92,317.76 404.47,317.74 405.03,317.72 405.58,317.70 406.14,317.68 406.69,317.66 407.24,317.63 407.80,317.61 408.35,317.58 408.90,317.55 409.46,317.52 410.01,317.49 410.56,317.46 411.12,317.42 411.67,317.38 412.22,317.34 412.78,317.30 413.33,317.25 413.88,317.21 414.44,317.16 414.99,317.10 415.54,317.04 416.10,316.98 416.65,316.92 417.21,316.85 417.76,316.78 418.31,316.70 418.87,316.62 419.42,316.53 419.97,316.44 420.53,316.34 421.08,316.24 421.63,316.13 422.19,316.02 422.74,315.90 423.29,315.77 423.85,315.63 424.40,315.49 424.95,315.33 425.51,315.17 426.06,315.00 426.61,314.82 427.17,314.63 427.72,314.43 428.28,314.21 428.83,313.99 429.38,313.75 429.94,313.50 430.49,313.24 431.04,312.96 431.60,312.66 432.15,312.35 432.70,312.03 433.26,311.68 433.81,311.32 434.36,310.94 434.92,310.55 435.47,310.13 436.02,309.69 436.58,309.23 437.13,308.74 437.68,308.24 438.24,307.71 438.79,307.15 439.35,306.57 439.90,305.97 440.45,305.34 441.01,304.68 441.56,304.00 442.11,303.29 442.67,302.55 443.22,301.78 443.77,300.98 444.33,300.16 444.88,299.31 445.43,298.43 445.99,297.52 446.54,296.59 447.09,295.63 447.65,294.64 448.20,293.63 448.75,292.59 449.31,291.53 449.86,290.45 450.41,289.34 450.97,288.22 451.52,287.08 452.08,285.92 452.63,284.75 453.18,283.56 453.74,282.37 454.29,281.17 454.84,279.95 455.40,278.74 455.95,277.52 456.50,276.31 457.06,275.09 457.61,273.88 458.16,272.68 458.72,271.48 459.27,270.30 459.82,269.12 460.38,267.97 460.93,266.82 461.48,265.70 462.04,264.60 462.59,263.51 463.15,262.45 463.70,261.42 464.25,260.40 464.81,259.42 465.36,258.46 465.91,257.52 466.47,256.61 467.02,255.73 467.57,254.88 468.13,254.06 468.68,253.27 469.23,252.50 469.79,251.76 470.34,251.05 470.89,250.36 471.45,249.71 472.00,249.08 472.55,248.47 473.11,247.89 473.66,247.34 474.22,246.81 474.77,246.30 475.32,245.82 475.88,245.36 476.43,244.92 476.98,244.50 477.54,244.10 478.09,243.72 478.64,243.36 479.20,243.02 479.75,242.69 480.30,242.38 480.86,242.09 481.41,241.81 481.96,241.54 482.52,241.29 483.07,241.06 483.62,240.83 484.18,240.62 484.73,240.42 485.29,240.23 485.84,240.04 486.39,239.87 486.95,239.71 487.50,239.56 488.05,239.41 488.61,239.28 489.16,239.15 489.71,239.03 490.27,238.91 490.82,238.80 491.37,238.70 491.93,238.60 492.48,238.51 493.03,238.43 493.59,238.34 494.14,238.27 494.69,238.19 495.25,238.13 495.80,238.06 496.36,238.00 496.91,237.94 497.46,237.89 498.02,237.84 498.57,237.79 499.12,237.75 499.68,237.70 500.23,237.66 500.78,237.62 501.34,237.59 501.89,237.55 502.44,237.52 503.00,237.49 503.55,237.46" fill="none" stroke="#000" stroke-width="1.5" stroke-linejoin="round"/>
<line x1="449.49" y1="231.72" x2="449.49" y2="250.44" stroke="#000" stroke-width="0.8"/>
<line x1="447.89" y1="231.72" x2="451.09" y2="231.72" stroke="#000" stroke-width="0.8"/>
<line x1="447.89" y1="250.44" x2="451.09" y2="250.44" stroke="#000" stroke-width="0.8"/>
<line x1="449.49" y1="282.37" x2="449.49" y2="291.18" stroke="#000" stroke-width="0.8"/>
<line x1="447.89" y1="282.37" x2="451.09" y2="282.37" stroke="#000" stroke-width="0.8"/>
<line x1="447.89" y1="291.18" x2="451.09" y2="291.18" stroke="#000" stroke-width="0.8"/>
<line x1="468.13" y1="235.35" x2="468.13" y2="243.94" stroke="#000" stroke-width="0.8"/>
<line x1="466.53" y1="235.35" x2="469.73" y2="235.35" stroke="#000" stroke-width="0.8"/>
<line x1="466.53" y1="243.94" x2="469.73" y2="243.94" stroke="#000" stroke-width="0.8"/>
<line x1="473.66" y1="233.37" x2="473.66" y2="238.33" stroke="#000" stroke-width="0.8"/>
<line x1="472.06" y1="233.37" x2="475.26" y2="233.37" stroke="#000" stroke-width="0.8"/>
<line x1="472.06" y1="238.33" x2="475.26" y2="238.33" stroke="#000" stroke-width="0.8"/>
<line x1="500.23" y1="231.72" x2="500.23" y2="241.63" stroke="#000" stroke-width="0.8"/>
<line x1="498.63" y1="231.72" x2="501.83" y2="231.72" stroke="#000" stroke-width="0.8"/>
<line x1="498.63" y1="241.63" x2="501.83" y2="241.63" stroke="#000" stroke-width="0.8"/>
<line x1="486.39" y1="235.02" x2="486.39" y2="242.73" stroke="#000" stroke-width="0.8"/>
<line x1="484.79" y1="235.02" x2="487.99" y2="235.02" stroke="#000" stroke-width="0.8"/>
<line x1="484.79" y1="242.73" x2="487.99" y2="242.73" stroke="#000" stroke-width="0.8"/>
<path d="M400.60,315.30 L402.80,319.20 L398.40,319.20 Z" fill="#000"/>
<path d="M412.59,313.10 L414.79,317.00 L410.39,317.00 Z" fill="#000"/>
<path d="M419.05,304.29 L421.25,308.19 L416.85,308.19 Z" fill="#000"/>
<path d="M431.04,280.07 L433.24,283.97 L428.84,283.97 Z" fill="#000"/>
<path d="M437.50,263.55 L439.70,267.45 L435.30,267.45 Z" fill="#000"/>
<path d="M449.49,239.33 L451.69,243.23 L447.29,243.23 Z" fill="#000"/>
<path d="M455.95,239.33 L458.15,243.23 L453.75,243.23 Z" fill="#000"/>
<path d="M468.13,244.45 L470.33,248.35 L465.93,248.35 Z" fill="#000"/>
<path d="M473.66,245.20 L475.86,249.10 L471.46,249.10 Z" fill="#000"/>
<path d="M491.93,235.48 L494.13,239.38 L489.73,239.38 Z" fill="#000"/>
<path d="M500.23,232.72 L502.43,236.62 L498.03,236.62 Z" fill="#000"/>
<rect x="398.70" y="315.15" width="3.8" height="3.8" fill="#000"/>
<rect x="410.69" y="315.15" width="3.8" height="3.8" fill="#000"/>
<rect x="417.15" y="312.95" width="3.8" height="3.8" fill="#000"/>
<rect x="429.14" y="306.89" width="3.8" height="3.8" fill="#000"/>
<rect x="435.60" y="301.39" width="3.8" height="3.8" fill="#000"/>
<rect x="447.59" y="284.87" width="3.8" height="3.8" fill="#000"/>
<rect x="454.05" y="283.77" width="3.8" height="3.8" fill="#000"/>
<rect x="466.23" y="238.08" width="3.8" height="3.8" fill="#000"/>
<rect x="471.76" y="235.11" width="3.8" height="3.8" fill="#000"/>
<rect x="484.49" y="237.53" width="3.8" height="3.8" fill="#000"/>
<rect x="490.03" y="236.43" width="3.8" height="3.8" fill="#000"/>
<rect x="498.33" y="237.53" width="3.8" height="3.8" fill="#000"/>
<circle cx="400.60" cy="318.70" r="2.0" fill="#000"/>
<circle cx="412.59" cy="318.70" r="2.0" fill="#000"/>
<circle cx="450.42" cy="318.70" r="2.0" fill="#000"/>
<circle cx="486.39" cy="318.70" r="2.0" fill="#000"/>
<circle cx="491.93" cy="318.70" r="2.0" fill="#000"/>
<circle cx="500.23" cy="318.70" r="2.0" fill="#000"/>
<line x1="411.20" y1="206.80" x2="418.60" y2="206.80" stroke="#000" stroke-width="1.3"/>
<path d="M414.90,204.50 L417.10,208.40 L412.70,208.40 Z" fill="#000"/>
<text x="424.0" y="209.30" font-size="6.8" font-weight="bold" class="hv">OKT-3</text>
<text x="446.22" y="209.00" font-size="6.1" font-weight="normal">(EC50 = 0.05 µg/mL)</text>
<line x1="411.20" y1="216.60" x2="418.60" y2="216.60" stroke="#000" stroke-width="1.3"/>
<rect x="413.00" y="214.70" width="3.8" height="3.8" fill="#000"/>
<text x="424.0" y="219.10" font-size="6.8" font-weight="bold" class="hv">BiJ591</text>
<text x="448.13" y="218.80" font-size="6.1" font-weight="normal">(EC50 = 1.02 µg/mL)</text>
<line x1="411.20" y1="226.20" x2="418.60" y2="226.20" stroke="#000" stroke-width="1.3"/>
<circle cx="414.90" cy="226.20" r="2.0" fill="#000"/>
<text x="424.0" y="228.70" font-size="6.8" font-weight="bold" class="hv">ScFvJ591</text>
<text x="457.58" y="228.40" font-size="6.1" font-weight="normal">(EC50 = nc)</text>
</svg>
</body></html>
